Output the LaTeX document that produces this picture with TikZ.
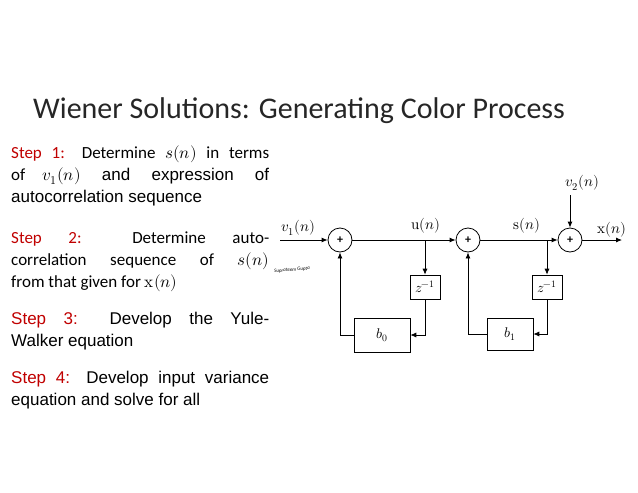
\documentclass[tikz,border=0pt]{standalone}
\usepackage{fontspec}
\usepackage{unicode-math}
\setmathfont{Latin Modern Math}
\setmainfont{Carlito}
\newfontfamily\arialf{Liberation Sans}
\usetikzlibrary{arrows.meta}
\definecolor{stepred}{RGB}{192,0,0}
\begin{document}
\begin{tikzpicture}[x=1pt,y=-1pt,
  sumnode/.style={circle,draw,line width=0.8pt,minimum size=24pt,inner sep=0pt,font=\bfseries\large},
  blk/.style={draw,line width=0.6pt,inner sep=0pt,font=\fontsize{14}{16}\selectfont},
  sig/.style={line width=0.8pt,-{Latex[length=6pt,width=5pt]}},
  lbl/.style={font=\fontsize{15}{18}\selectfont},
  steptext/.style={anchor=base west,text width=258pt,align=justify,inner sep=0pt,font=\fontsize{17}{22}\selectfont}]
\useasboundingbox (0,0) rectangle (638,493);
\node[anchor=base west,inner sep=0pt,font=\fontsize{30}{36}\selectfont,text=black!85] (title) at (33,118) {Wiener Solutions: Generating Color Process};
\node[steptext] (s1) at (11,158) {\textcolor{stepred}{Step 1:} Determine $s(n)$ in terms\linebreak of {\arialf $v_1(n)$ and expression of\linebreak autocorrelation sequence}};
\node[steptext] (s2) at (11,243) {\textcolor{stepred}{Step 2:} Determine auto-\linebreak correlation sequence of $s(n)$\linebreak from that given for $\symup{x}(n)$};
\node[steptext,font=\arialf\fontsize{17}{22}\selectfont] (s3) at (11,324) {\textcolor{stepred}{Step 3:} Develop the Yule-\linebreak Walker equation};
\node[steptext,font=\arialf\fontsize{17}{22}\selectfont] (s4) at (11,383) {\textcolor{stepred}{Step 4:} Develop input variance\linebreak equation and solve for all};
\node[font=\itshape\tiny,rotate=5] (sign) at (292,270) {Suprateem Gupta};
% blocks
\node[sumnode] (a1) at (340,240) {+};
\node[sumnode] (a2) at (468,240) {+};
\node[sumnode] (a3) at (570,240) {+};
\node[blk,minimum width=30pt,minimum height=24pt] (z1) at (425,287) {$z^{-1}$};
\node[blk,minimum width=30pt,minimum height=24pt] (z2) at (547,287) {$z^{-1}$};
\node[blk,minimum width=56pt,minimum height=34pt] (b0) at (382,335) {$b_0$};
\node[blk,minimum width=46pt,minimum height=32pt] (b1) at (510,334) {$b_1$};
\coordinate (in) at (280,240);
\coordinate (out) at (622,240);
\coordinate (v2top) at (570,195);
\coordinate (br1) at (425,240);
\coordinate (br2) at (547,240);
\draw[sig] (in) -- (a1);
\draw[sig] (a1) -- (a2);
\draw[sig] (a2) -- (a3);
\draw[sig] (a3) -- (out);
\draw[sig] (v2top) -- (a3);
\draw[sig] (br1) -- (z1);
\draw[sig] (br2) -- (z2);
\draw[sig] (z1.south) |- (b0.east);
\draw[sig] (z2.south) |- (b1.east);
\draw[sig] (b0.west) -| (a1.south);
\draw[sig] (b1.west) -| (a2.south);
\node[lbl] (lv1) at (298,228) {$v_1(n)$};
\node[lbl] (lu) at (426,226) {$\symup{u}(n)$};
\node[lbl] (ls) at (527,226) {$\symup{s}(n)$};
\node[lbl] (lx) at (612,230) {$\symup{x}(n)$};
\node[lbl] (lv2) at (582,183) {$v_2(n)$};
\end{tikzpicture}
\end{document}
